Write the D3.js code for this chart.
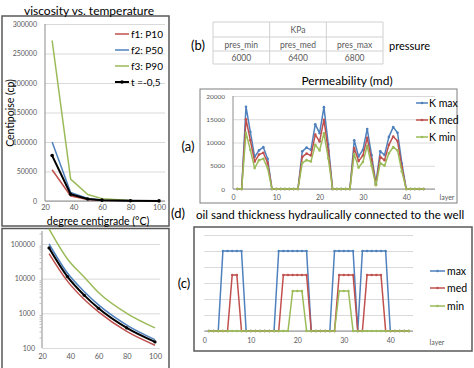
<!DOCTYPE html>
<html><head><meta charset="utf-8">
<script src="https://cdn.jsdelivr.net/npm/d3@7"></script>
<style>
body{margin:0;background:#fff}
svg{display:block}
text{font-family:Lato,"Open Sans",sans-serif}
</style>
</head><body>
<script>
// ---------- DATA ----------
const temps = [25, 38, 50, 60, 80, 100];
const viscF1 = [53000, 8500, 2500, 1100, 300, 120];
const viscF2 = [100000, 14500, 4200, 1750, 460, 175];
const viscF3 = [272000, 37000, 11000, 4000, 1000, 380];
const viscT  = [77000, 11500, 3300, 1400, 380, 150];
const viscNames = ["f1: P10", "f2: P50", "f3: P90", "t =-0,5"];
const viscLinTicks = [0, 50000, 100000, 150000, 200000, 250000, 300000];
const viscLogTicks = [100, 1000, 10000, 100000];
const viscLogMinor = [200,300,400,500,600,700,800,900,2000,3000,4000,5000,6000,7000,8000,9000,20000,30000,40000,50000,60000,70000,80000,90000,200000];
const tempTicks = [20, 40, 60, 80, 100];

const pressCols = ["pres_min", "pres_med", "pres_max"];
const pressVals = [6000, 6400, 6800];
const pressUnit = "KPa";

const layers = [1,2,3,4,5,6,7,8,9,10,11,12,13,14,15,16,17,18,19,20,21,22,23,24,25,26,27,28,29,30,31,32,33,34,35,36,37,38,39,40,41,42,43,44];
const kMax = [0,0,17700,12300,6900,8300,9000,6500,0,0,0,0,0,0,0,8100,8900,8400,13900,12000,17600,9600,0,0,0,0,0,10500,7000,8400,12900,7300,1200,8100,7300,11200,13300,12100,5500,0,0,0,0,0];
const kMed = [0,0,15000,10500,5900,7400,7800,5600,0,0,0,0,0,0,0,6900,7600,7200,11700,10200,14900,8200,0,0,0,0,0,8800,6000,7200,11000,6200,1000,6900,6200,9500,11300,10300,4700,0,0,0,0,0];
const kMin = [0,0,12100,8400,4500,6200,6500,4500,0,0,0,0,0,0,0,5600,6200,5900,9500,8300,12000,6600,0,0,0,0,0,7500,4600,5800,9300,5000,800,5600,5000,7700,9000,8300,3800,0,0,0,0,0];
const kNames = ["K max", "K med", "K min"];
const kTicks = [0, 5000, 10000, 15000, 20000];
const layerTicks = [0, 10, 20, 30, 40];

const thMax = [0,0,0,5,5,5,5,5,0,0,0,0,0,0,0,5,5,5,5,5,5,5,0,0,0,0,0,5,5,5,5,5,0,5,5,5,5,5,5,0,0,0,0,0];
const thMed = [0,0,0,0,0,3.5,3.5,0,0,0,0,0,0,0,0,0,3.5,3.5,3.5,3.5,3.5,3.5,0,0,0,0,0,0,3.5,3.5,3.5,3.5,0,0,3.5,3.5,3.5,3.5,0,0,0,0,0,0];
const thMin = [0,0,0,0,0,0,0,0,0,0,0,0,0,0,0,0,0,0,2.5,2.5,2.5,0,0,0,0,0,0,0,2.5,2.5,2.5,0,0,0,0,0,0,0,0,0,0,0,0,0];
const thNames = ["max", "med", "min"];
const thGridTicks = [0, 1, 2, 3, 4, 5, 6];

// ---------- STYLE ----------
const C = {blue:"#4F81BD", red:"#C0504D", green:"#9BBB59", black:"#000000",
           grid:"#D9D9D9", axis:"#8C8C8C", tick:"#595959", frame:"#595959"};

const svg = d3.select("body").append("svg").attr("width",474).attr("height",368);

function styleAxis(g, size){
  g.select(".domain").remove();
  g.selectAll("text").attr("fill",C.tick).style("font-size",size+"px");
  g.selectAll("line").attr("stroke",C.axis);
}
function grid(y, ticks, x0, x1){
  const g = svg.append("g").attr("transform",`translate(${x0},0)`)
    .call(d3.axisLeft(y).tickValues(ticks).tickSize(-(x1-x0)).tickFormat(""));
  g.select(".domain").remove();
  g.selectAll("line").attr("stroke",C.grid).attr("stroke-width",1);
}
function series(x, y, xs, ys, color, w, r, curve){
  const line = d3.line().x((d,i)=>x(xs[i])).y(d=>y(d)).curve(curve||d3.curveLinear);
  svg.append("path").datum(ys).attr("d",line).attr("fill","none")
     .attr("stroke",color).attr("stroke-width",w).attr("stroke-linejoin","round");
  if(r>0){
    svg.append("g").selectAll("circle").data(ys).join("circle")
      .attr("cx",(d,i)=>x(xs[i])).attr("cy",d=>y(d)).attr("r",r).attr("fill",color);
  }
}
function label(x,y,t,size,anchor,color,extra){
  const el = svg.append("text").attr("x",x).attr("y",y).text(t)
    .attr("text-anchor",anchor||"start").attr("dominant-baseline","central")
    .attr("fill",color||"#000").style("font-size",size+"px");
  if(extra) extra(el);
  return el;
}

// ---------- FRAMES ----------
svg.append("rect").attr("x",2).attr("y",16).attr("width",167).attr("height",210)
  .attr("fill","none").attr("stroke",C.frame).attr("stroke-width",1.5);
svg.append("rect").attr("x",2).attr("y",228.5).attr("width",167).attr("height",141)
  .attr("fill","none").attr("stroke",C.frame).attr("stroke-width",1.5);

// ---------- VISCOSITY (linear) ----------
{
  const x = d3.scaleLinear().domain([20,100]).range([45,159]);
  const y = d3.scaleLinear().domain([0,300000]).range([201,24]);
  grid(y, viscLinTicks, 45, 165);
  svg.append("line").attr("x1",45).attr("x2",45).attr("y1",24).attr("y2",201).attr("stroke",C.axis);
  svg.append("line").attr("x1",45).attr("x2",165).attr("y1",201).attr("y2",201).attr("stroke",C.axis);
  svg.append("g").attr("transform","translate(45,0)")
    .call(d3.axisLeft(y).tickValues(viscLinTicks).tickSize(0).tickPadding(8).tickFormat(d3.format("d")))
    .call(g=>styleAxis(g,7));
  svg.append("g").attr("transform","translate(0,201)")
    .call(d3.axisBottom(x).tickValues(tempTicks).tickSize(0).tickPadding(3.5))
    .call(g=>styleAxis(g,7.5));
  series(x,y,temps,viscF1,C.red,1.5,0);
  series(x,y,temps,viscF2,C.blue,1.5,0);
  series(x,y,temps,viscF3,C.green,1.5,0);
  series(x,y,temps,viscT,C.black,2,1.8);
  label(89,10,"viscosity vs. temperature",12,"middle");
  label(98,220.5,"degree centigrade (°C)",10.5,"middle");
  label(0,0,"Centipoise (cp)",10.5,"middle","#000",el=>el.attr("transform","translate(10,113) rotate(-90)"));
  const cols=[C.red,C.blue,C.green,C.black], ly=[34,50,66,82];
  viscNames.forEach((n,i)=>{
    svg.append("line").attr("x1",115).attr("x2",129).attr("y1",ly[i]).attr("y2",ly[i])
      .attr("stroke",cols[i]).attr("stroke-width",i==3?2:1.5);
    if(i==3) svg.append("circle").attr("cx",122).attr("cy",ly[i]).attr("r",1.8).attr("fill",C.black);
    label(131,ly[i],n,10);
  });
}

// ---------- VISCOSITY (log) ----------
{
  const x = d3.scaleLinear().domain([20,100]).range([42,155]);
  const y = d3.scaleLog().domain([100,100000]).range([348,244]);
  grid(y, viscLogTicks, 42, 160);
  svg.append("line").attr("x1",42).attr("x2",42).attr("y1",231).attr("y2",348).attr("stroke",C.axis);
  svg.append("g").attr("transform","translate(42,0)")
    .call(d3.axisLeft(y).tickValues(viscLogMinor).tickSize(2.5).tickFormat(""))
    .call(g=>{g.select(".domain").remove(); g.selectAll("line").attr("stroke","#BFBFBF");});
  svg.append("g").attr("transform","translate(42,0)")
    .call(d3.axisLeft(y).tickValues(viscLogTicks).tickSize(0).tickPadding(7).tickFormat(d3.format("d")))
    .call(g=>styleAxis(g,7));
  svg.append("g").attr("transform","translate(0,348)")
    .call(d3.axisBottom(x).tickValues(tempTicks).tickSize(0).tickPadding(6))
    .call(g=>styleAxis(g,7.5));
  series(x,y,temps,viscF3,C.green,1.5,0,d3.curveMonotoneX);
  series(x,y,temps,viscF2,C.blue,1.5,0,d3.curveMonotoneX);
  series(x,y,temps,viscF1,C.red,1.5,0,d3.curveMonotoneX);
  series(x,y,temps,viscT,C.black,2,1.6,d3.curveMonotoneX);
}

// ---------- (b) PRESSURE TABLE ----------
{
  const cx = d3.scaleBand().domain(pressCols).range([213,383]);
  const rows = [22,37,51,64];
  const tg = svg.append("g");
  rows.forEach(r=>tg.append("line").attr("x1",213).attr("x2",383).attr("y1",r).attr("y2",r).attr("stroke","#D0D0D0"));
  [213,...pressCols.map(c=>cx(c)+cx.bandwidth())].forEach(v=>
    tg.append("line").attr("x1",v).attr("x2",v).attr("y1",22).attr("y2",64).attr("stroke","#D0D0D0"));
  label(cx(pressCols[1])+cx.bandwidth()/2,30,pressUnit,8.5,"middle",C.tick);
  pressCols.forEach((c,i)=>{
    label(cx(c)+cx.bandwidth()/2,44.5,c,8.5,"middle",C.tick);
    label(cx(c)+cx.bandwidth()/2,58,pressVals[i],8.5,"middle",C.tick);
  });
  label(198,45,"(b)",13,"middle");
  label(389,45,"pressure",11);
}

// ---------- (a) PERMEABILITY ----------
{
  svg.append("rect").attr("x",200).attr("y",89).attr("width",257).attr("height",114)
    .attr("fill","none").attr("stroke","#7F7F7F").attr("stroke-width",1);
  const x = d3.scaleLinear().domain([0,10]).range([233,276.3]);
  const y = d3.scaleLinear().domain([0,20000]).range([189,96]);
  grid(y, kTicks, 233, 435);
  svg.append("line").attr("x1",233).attr("x2",233).attr("y1",96).attr("y2",189).attr("stroke",C.axis);
  svg.append("line").attr("x1",233).attr("x2",435).attr("y1",189).attr("y2",189).attr("stroke",C.axis);
  svg.append("g").attr("transform","translate(233,0)")
    .call(d3.axisLeft(y).tickValues(kTicks).tickSize(0).tickPadding(8).tickFormat(d3.format("d")))
    .call(g=>styleAxis(g,6.5));
  svg.append("g").attr("transform","translate(0,189)")
    .call(d3.axisBottom(x).tickValues(layerTicks).tickSize(0).tickPadding(6))
    .call(g=>styleAxis(g,7));
  label(447,197,"layer",7,"middle",C.tick);
  series(x,y,layers,kMax,C.blue,1.5,1.3);
  series(x,y,layers,kMed,C.red,1.5,1.3);
  series(x,y,layers,kMin,C.green,1.5,1.3);
  label(347,80,"Permeability (md)",12,"middle");
  label(188,146,"(a)",13,"middle");
  const cols=[C.blue,C.red,C.green], ly=[103,120,137];
  kNames.forEach((n,i)=>{
    svg.append("line").attr("x1",416).attr("x2",428).attr("y1",ly[i]).attr("y2",ly[i]).attr("stroke",cols[i]).attr("stroke-width",1.5);
    svg.append("circle").attr("cx",422).attr("cy",ly[i]).attr("r",1.3).attr("fill",cols[i]);
    label(429,ly[i],n,10.5);
  });
}

// ---------- (d)/(c) THICKNESS ----------
{
  label(178,213,"(d)",13,"middle");
  label(196,214,"oil sand thickness hydraulically connected to the well",11.6);
  svg.append("rect").attr("x",194).attr("y",227).attr("width",278).attr("height",124)
    .attr("fill","none").attr("stroke",C.frame).attr("stroke-width",1.5);
  label(184,283,"(c)",13,"middle");
  const x = d3.scaleLinear().domain([0,10]).range([204.3,250.8]);
  const y = d3.scaleLinear().domain([0,6]).range([331,235]);
  grid(y, thGridTicks, 204.3, 413);
  svg.append("line").attr("x1",204.3).attr("x2",413).attr("y1",331).attr("y2",331).attr("stroke",C.axis);
  svg.append("g").attr("transform","translate(0,331)")
    .call(d3.axisBottom(x).tickValues(layerTicks).tickSize(0).tickPadding(7))
    .call(g=>styleAxis(g,7));
  label(437,342,"layer",7,"middle",C.tick);
  series(x,y,layers,thMax,C.blue,1.5,1.2);
  series(x,y,layers,thMed,C.red,1.5,1.2);
  series(x,y,layers,thMin,C.green,1.5,1.2);
  const cols=[C.blue,C.red,C.green], ly=[271,288,306];
  thNames.forEach((n,i)=>{
    svg.append("line").attr("x1",430).attr("x2",445).attr("y1",ly[i]).attr("y2",ly[i]).attr("stroke",cols[i]).attr("stroke-width",1.5);
    svg.append("circle").attr("cx",437.5).attr("cy",ly[i]).attr("r",1.2).attr("fill",cols[i]);
    label(447,ly[i],n,10.5);
  });
}
</script>
</body></html>
